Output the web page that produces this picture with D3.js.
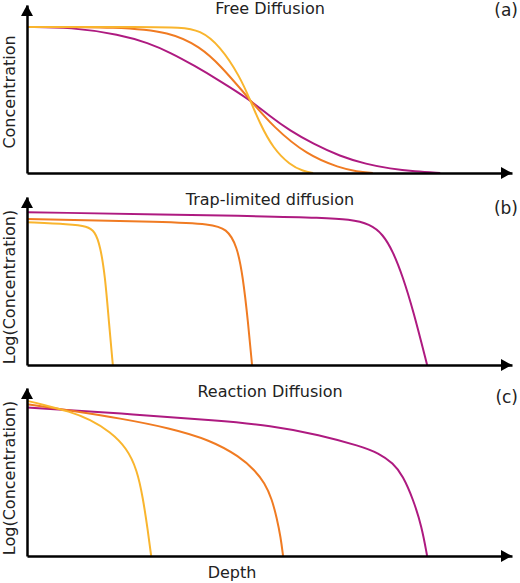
<!DOCTYPE html>
<html>
<head>
<meta charset="utf-8">
<script src="https://cdn.jsdelivr.net/npm/d3@7"></script>
<style>
  html, body { margin: 0; padding: 0; background: #fff; }
  svg { display: block; }
  text { font-family: "DejaVu Sans", sans-serif; fill: #222; }
</style>
</head>
<body>
<svg id="chart" width="520" height="583"></svg>
<script>
// ---------- data (depth in arbitrary units 0..100, concentration normalised) ----------
const panelTitles = ["Free Diffusion", "Trap-limited diffusion", "Reaction Diffusion"];
const panelTags = ["(a)", "(b)", "(c)"];
const yAxisLabels = ["Concentration", "Log(Concentration)", "Log(Concentration)"];
const xAxisLabel = "Depth";
const seriesNames = ["short time", "intermediate time", "long time"];
const seriesColors = ["#f9b52e", "#f07b22", "#ae1a80"];

// (a) Free diffusion
const freeShort = [[0,1],[25,1],[31.5,0.997],[35.7,0.979],[39.8,0.87],[43.9,0.66],[46,0.5],[48,0.34],[50.7,0.171],[54.2,0.055],[57,0.012],[59,0]];
const freeMid   = [[0,1],[19.2,1],[29.5,0.966],[35.7,0.863],[39.8,0.74],[46,0.5],[50.7,0.318],[57.7,0.123],[64.5,0.035],[68,0.01],[71.3,0]];
const freeLong  = [[0,1],[9,0.998],[19.2,0.948],[25,0.89],[29.5,0.825],[34.5,0.735],[39.8,0.63],[46,0.5],[50,0.39],[54.2,0.29],[59,0.2],[64.5,0.115],[70,0.06],[74.8,0.03],[80,0.01],[85.2,0]];

// (b) Trap-limited diffusion
const trapShort = [[0,0.977],[8.9,0.963],[12.4,0.95],[14.0,0.915],[15.1,0.815],[16.1,0.61],[16.9,0.288],[17.7,0]];
const trapMid   = [[0,1.0],[29.5,0.979],[37.7,0.964],[41.2,0.935],[43.3,0.815],[44.5,0.61],[45.6,0.288],[46.4,0]];
const trapLong  = [[0,1.046],[50.1,1.018],[60.4,1.008],[66.6,0.997],[70.7,0.965],[73.4,0.895],[75.5,0.774],[77.5,0.603],[79.6,0.377],[82.5,0]];

// (c) Reaction diffusion
const reacShort = [[0,1.062],[2.7,1.041],[8.9,0.988],[13.0,0.935],[17.1,0.852],[20.6,0.738],[22.7,0.589],[23.9,0.399],[24.9,0.178],[25.6,0]];
const reacMid   = [[0,1.039],[8.9,0.995],[19.2,0.943],[29.5,0.875],[37.7,0.795],[43.9,0.68],[47,0.585],[49,0.5],[50.5,0.39],[51.5,0.26],[52.3,0.13],[52.8,0]];
const reacLong  = [[0,1.016],[19.2,0.977],[39.8,0.925],[50.1,0.894],[60.4,0.829],[68.7,0.752],[72.5,0.705],[75.5,0.635],[77.5,0.55],[79.6,0.39],[81.4,0.201],[82.5,0]];

const panelSeries = [
  [freeShort, freeMid, freeLong],
  [trapShort, trapMid, trapLong],
  [reacShort, reacMid, reacLong]
];

// ---------- layout ----------
const svg = d3.select("#chart");
const axisLeftX = 27, axisRightX = 512;
const panelBottoms = [173, 365, 556];
const panelTops = [5, 197, 388];
const titleBaselines = [14, 205, 397];
const tagBaselines = [16, 214, 403];
const yLabelCenters = [92, 287, 478];

const x = d3.scaleLinear().domain([0, 100]).range([axisLeftX, axisRightX]);

panelTitles.forEach((title, i) => {
  const y = d3.scaleLinear().domain([0, 1.15]).range([panelBottoms[i], panelTops[i]]);
  const g = svg.append("g").attr("class", "panel");

  const line = d3.line()
    .x(d => x(d[0]))
    .y(d => y(d[1]))
    .curve(d3.curveBasis);

  const order = [2, 1, 0];
  order.forEach(s => {
    g.append("path")
      .datum(panelSeries[i][s])
      .attr("fill", "none")
      .attr("stroke", seriesColors[s])
      .attr("stroke-width", 2)
      .attr("d", line);
  });

  // axes (no ticks, just the domain line)
  const xAxis = g.append("g")
    .attr("transform", `translate(0,${panelBottoms[i]})`)
    .call(d3.axisBottom(x).ticks(0).tickSizeOuter(0));
  const yAxis = g.append("g")
    .attr("transform", `translate(${axisLeftX},0)`)
    .call(d3.axisLeft(y).ticks(0).tickSizeOuter(0));
  [xAxis, yAxis].forEach(a => {
    a.selectAll(".tick").remove();
    a.select(".domain").attr("stroke", "#000").attr("stroke-width", 2.5);
  });

  // arrow heads at the end of each axis range
  const xr = x.range()[1], yb = panelBottoms[i];
  g.append("path")
    .attr("d", `M${xr},${yb} L${xr - 11},${yb - 6} L${xr - 11},${yb + 6} Z`)
    .attr("fill", "#000");
  const yt = y.range()[1];
  g.append("path")
    .attr("d", `M${axisLeftX},${yt} L${axisLeftX - 6},${yt + 11} L${axisLeftX + 6},${yt + 11} Z`)
    .attr("fill", "#000");

  // texts
  g.append("text")
    .attr("x", 270).attr("y", titleBaselines[i])
    .attr("text-anchor", "middle")
    .attr("font-size", 16)
    .text(title);
  g.append("text")
    .attr("x", 518).attr("y", tagBaselines[i])
    .attr("text-anchor", "end")
    .attr("font-size", 17)
    .text(panelTags[i]);
  g.append("text")
    .attr("transform", `translate(15,${yLabelCenters[i]}) rotate(-90)`)
    .attr("text-anchor", "middle")
    .attr("font-size", 16)
    .text(yAxisLabels[i]);
});

svg.append("text")
  .attr("x", 232).attr("y", 578)
  .attr("text-anchor", "middle")
  .attr("font-size", 16)
  .text(xAxisLabel);
</script>
</body>
</html>
